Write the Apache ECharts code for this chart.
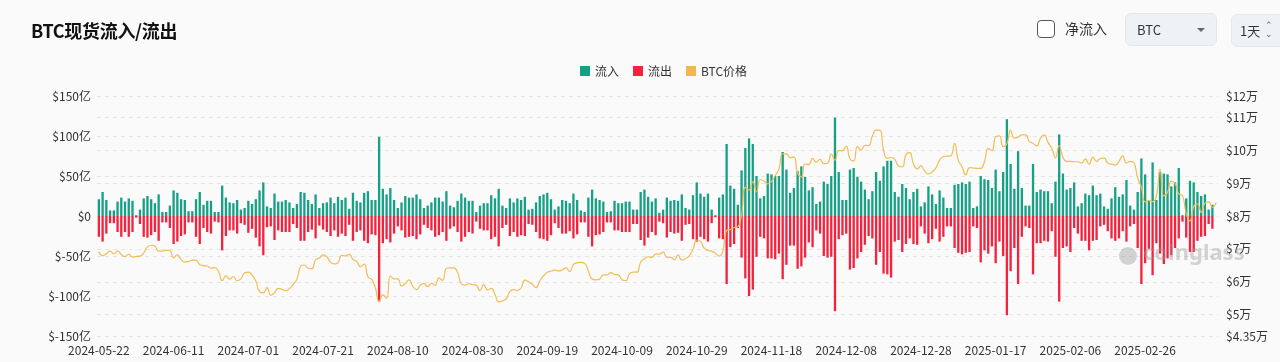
<!DOCTYPE html>
<html><head><meta charset="utf-8">
<script src="https://cdn.jsdelivr.net/npm/echarts@6/dist/echarts.min.js"></script>
<style>
html,body{margin:0;padding:0;background:#fafafa;width:1280px;height:362px;overflow:hidden;font-family:"Noto Sans CJK SC","Noto Sans",sans-serif;}
#chart{position:absolute;left:0;top:0;width:1280px;height:362px;}
.title{position:absolute;left:31px;top:17px;font-size:18px;font-weight:700;color:#111;letter-spacing:-0.3px;}
.cb{position:absolute;left:1037px;top:20px;width:16px;height:16px;border:1.5px solid #555;border-radius:4px;background:#fff;}
.cbl{position:absolute;left:1065px;top:18px;font-size:14px;color:#333;}
.sel{position:absolute;left:1125px;top:13px;width:90px;height:31px;background:#eef2f6;border:1px solid #e3e7ec;border-radius:6px;}
.sel span{position:absolute;left:11px;top:6px;font-size:13px;color:#333;}
.caret{position:absolute;left:71px;top:14px;width:0;height:0;border-left:4px solid transparent;border-right:4px solid transparent;border-top:4px solid #666;}
.per{position:absolute;left:1231px;top:14px;width:60px;height:31px;background:#eff2f5;border:1px solid #e5e8ec;border-radius:6px;}
.per span{position:absolute;left:8px;top:6px;font-size:13px;color:#333;}
.per i{position:absolute;left:33px;top:5px;font-style:normal;font-size:9px;line-height:9px;color:#666;}
</style></head>
<body>
<div id="chart"></div>
<div class="title">BTC现货流入/流出</div>
<div class="cb"></div><div class="cbl">净流入</div>
<div class="sel"><span>BTC</span><div class="caret"></div></div>
<div class="per"><span>1天</span><i>⌃<br>⌄</i></div>
<script>
// ---- data ----
const startDate = [2024, 5, 22];
const inflow = [
21,30,20,7,7,18,23,18,22,19, 1,8,22,25,21,16,27,5,5,13, 32,29,21,20,6,6,21,30,14,19, 19,5,5,38,23,17,16,20,8,10, 19,15,21,32,42,12,10,28,18,18,
20,17,10,15,30,29,20,15,27,10, 16,17,23,16,24,20,23,9,29,19, 17,29,31,20,20,99,34,27,35,20, 10,17,25,23,23,27,21,10,13,17, 23,23,18,31,13,11,19,28,23,19, 19,
5,13,16,16,26,22,34,13,10,22, 17,22,20,24,8,9,17,25,27,29, 21,8,12,20,19,16,28,20,7,5, 23,33,22,20,18,5,6,19,16,16, 18,18,8,8,30,33,24,18,22,4, 8,
23,19,20,19,27,10,8,26,42,28, 24,28,8,1,23,27,90,38,34,14, 57,85,97,90,50,22,25,53,52,50, 50,80,58,29,35,56,62,49,32,36, 15,18,43,40,50,123,55,20,20,58, 60,
49,43,33,21,31,55,44,62,69,69, 30,24,40,35,21,30,34,12,17,37, 27,15,32,23,10,10,39,40,42,40, 43,10,12,50,46,45,35,58,31,55, 121,65,34,81,35,13,13,65,30,33, 31,
31,16,43,102,53,33,35,42,12,16, 28,26,38,26,28,12,9,22,36,24, 27,45,13,8,30,72,52,20,67,20, 55,53,52,37,42,60,1,22,44,42, 30,25,27,8,14,0
];
const outflow = [
-26,-32,-22,-9,-9,-20,-26,-20,-26,-20, -2,-10,-26,-27,-24,-20,-31,-8,-8,-15, -35,-32,-25,-23,-8,-8,-26,-35,-15,-20, -22,-7,-8,-43,-25,-18,-18,-22,-9,-11, -21,-16,-27,-38,-49,-14,-13,-30,-18,-20,
-20,-20,-10,-15,-31,-31,-20,-17,-28,-12, -17,-20,-25,-18,-26,-22,-25,-11,-31,-20, -18,-31,-34,-23,-24,-107,-34,-29,-33,-22, -13,-18,-27,-26,-25,-29,-23,-11,-15,-18, -26,-24,-20,-31,-16,-13,-20,-32,-26,-20, -22,
-7,-16,-18,-18,-29,-26,-38,-15,-11,-25, -20,-26,-24,-25,-10,-11,-20,-28,-29,-31, -24,-9,-15,-22,-22,-19,-28,-23,-8,-8, -26,-38,-24,-23,-20,-8,-8,-18,-18,-20, -20,-20,-10,-10,-30,-37,-27,-20,-24,-7, -9,
-27,-20,-22,-21,-31,-11,-10,-29,-32,-26, -29,-32,-9,-1.5,-28,-29,-85,-39,-35,-15, -52,-78,-100,-92,-51,-26,-28,-53,-53,-54, -47,-79,-61,-37,-37,-66,-63,-52,-33,-39, -18,-22,-50,-52,-51,-119,-29,-24,-22,-67, -65,
-53,-45,-36,-25,-28,-61,-45,-72,-73,-77, -32,-30,-45,-35,-28,-35,-36,-13,-22,-34, -29,-16,-32,-26,-13,-13,-40,-46,-48,-46, -45,-13,-15,-58,-43,-47,-38,-59,-32,-50, -124,-69,-40,-85,-26,-13,-15,-73,-34,-34, -31,
-32,-19,-51,-107,-40,-38,-45,-15,-22,-31, -31,-43,-31,-30,-13,-11,-19,-28,-31,-28, -19,-32,-13,-10,-40,-85,-59,-41,-74,-34, -47,-60,-53,-49,-40,-28,-7,-27,-45,-45, -31,-26,-25,-10,-16,0
];
const price = [
69100,67900,68500,69300,68500,69400,68300,67600,68400,67500,
67700,67800,68800,70600,71100,70800,69300,69300,69600,69500,67300,68200,66800,66000,66200,66600,66500,65200,64900,64800,64100,64300,63200,60300,61800,60800,61600,60300,60900,62700,
62900,62000,60200,57000,56600,58200,55900,56700,58000,57700,57300,57900,59200,60800,64700,65100,64100,63900,66700,67200,68200,67600,65900,65400,65800,68000,67900,68300,66800,66200,64600,
65400,61500,60700,58100,54000,56000,55000,61700,60900,60900,58700,59400,60600,58700,57600,58900,59500,58500,59500,59000,61200,60400,64100,64200,64200,62800,59400,59000,59400,59100,58900,
57300,59100,57500,58000,56200,53900,54200,54800,57000,57600,57400,58100,60500,60000,59200,58200,60300,61800,62900,63200,63600,63300,63600,64200,63100,65200,65800,65900,65600,63300,
60800,60600,60800,62100,62100,62800,62200,62100,60600,60300,62400,62900,62900,66000,67000,67600,67400,68400,68400,69000,67400,67400,66700,68200,66600,67000,67900,69900,72700,72300,70200,
69500,69300,68700,67800,69400,75600,75900,76500,76700,80500,88700,87900,90500,87300,91100,90600,89800,90500,92300,94300,98900,98900,97700,98000,93000,91900,95900,95600,97500,96400,
97200,95900,96000,98800,97000,99900,99900,101200,97400,96700,101200,100000,101500,101400,104300,106100,106100,100000,97500,97800,97200,95200,94900,98700,99300,95800,94300,95300,93700,92800,93400,
94600,97000,98100,98200,98300,102100,96900,95000,92500,94700,94600,94500,94500,96500,100500,99900,104100,104400,101100,102000,106100,103700,104000,104700,104700,102600,102100,101300,103700,104700,102400,
100600,97700,101400,97900,96600,96600,96500,96500,96100,97400,95700,97900,96600,97500,97600,96100,95800,95500,96600,98300,96100,96600,96200,91500,88700,84300,84700,84400,
86000,94300,86100,87200,90600,89900,86700,86200,80700,78500,82900,83700,81100,83900,84300,82600,84000
];
const flowTicks = [-150, -100, -50, 0, 50, 100, 150];
const priceTicks = [43500, 50000, 60000, 70000, 80000, 90000, 100000, 110000, 116500];

// categories: one per day
const dates = [];
(function(){
  const d = new Date(Date.UTC(startDate[0], startDate[1]-1, startDate[2]));
  for (let i = 0; i < price.length; i++) {
    dates.push(d.toISOString().slice(0,10));
    d.setUTCDate(d.getUTCDate()+1);
  }
})();

const FONT = '"Noto Sans CJK SC","Noto Sans",sans-serif';
const chart = echarts.init(document.getElementById('chart'), null, {renderer:'canvas'});
const pMin = priceTicks[0], pMax = priceTicks[priceTicks.length-1];
chart.setOption({
  animation:false,
  backgroundColor:'#fafafa',
  textStyle:{fontFamily:FONT},
  legend:{
    top:60, left:575, itemWidth:10, itemHeight:10, itemGap:14, icon:'rect',
    textStyle:{fontSize:12,color:'#333',fontFamily:FONT},
    data:['流入','流出','BTC价格']
  },
  grid:{left:97,right:62,top:96,bottom:26},
  xAxis:{
    type:'category', data:dates,
    axisLine:{show:false}, axisTick:{show:false},
    axisLabel:{interval:19, color:'#333', fontSize:12, margin:8, fontFamily:FONT}
  },
  yAxis:[{
    type:'value', min:flowTicks[0], max:flowTicks[flowTicks.length-1], interval:50,
    axisLine:{show:false}, axisTick:{show:false},
    axisLabel:{color:'#333', fontSize:12, margin:6, fontFamily:FONT,
      formatter:v => v === 0 ? '$0' : '$' + v + '亿'},
    splitLine:{lineStyle:{type:[4,4], color:'#e5e5e5'}}
  },{
    type:'value', position:'right', min:pMin, max:pMax,
    axisLine:{show:false},
    axisTick:{show:false, customValues:priceTicks},
    axisLabel:{color:'#333', fontSize:12, margin:8, fontFamily:FONT, customValues:priceTicks,
      formatter:v => '$' + (v === pMax ? Math.round(v/1e4) : +(v/1e4).toFixed(2)) + '万'},
    splitLine:{show:true, lineStyle:{type:[4,4], color:'#e5e5e5'}}
  }],
  series:[
    {name:'流入', type:'bar', data:inflow, barWidth:'62%', barGap:'-100%',
      itemStyle:{color:'#16a085'}},
    {name:'流出', type:'bar', data:outflow, barWidth:'62%',
      itemStyle:{color:'#f5223e'}},
    {name:'BTC价格', type:'line', yAxisIndex:1, data:price, smooth:true, showSymbol:false, z:5,
      lineStyle:{width:1.2, color:'#f1bd55'}, itemStyle:{color:'#f0b94a'}}
  ],
  graphic:[{
    type:'text', left:1143, top:243, z:100,
    style:{text:'coinglass', fontSize:22, fontWeight:'bold', fill:'rgba(150,150,150,0.4)', fontFamily:'"Noto Sans",sans-serif'}
  },{
    type:'circle', shape:{cx:1128, cy:256, r:9}, z:100,
    style:{fill:'rgba(150,150,150,0.4)'}
  }]
});
</script>
</body></html>
